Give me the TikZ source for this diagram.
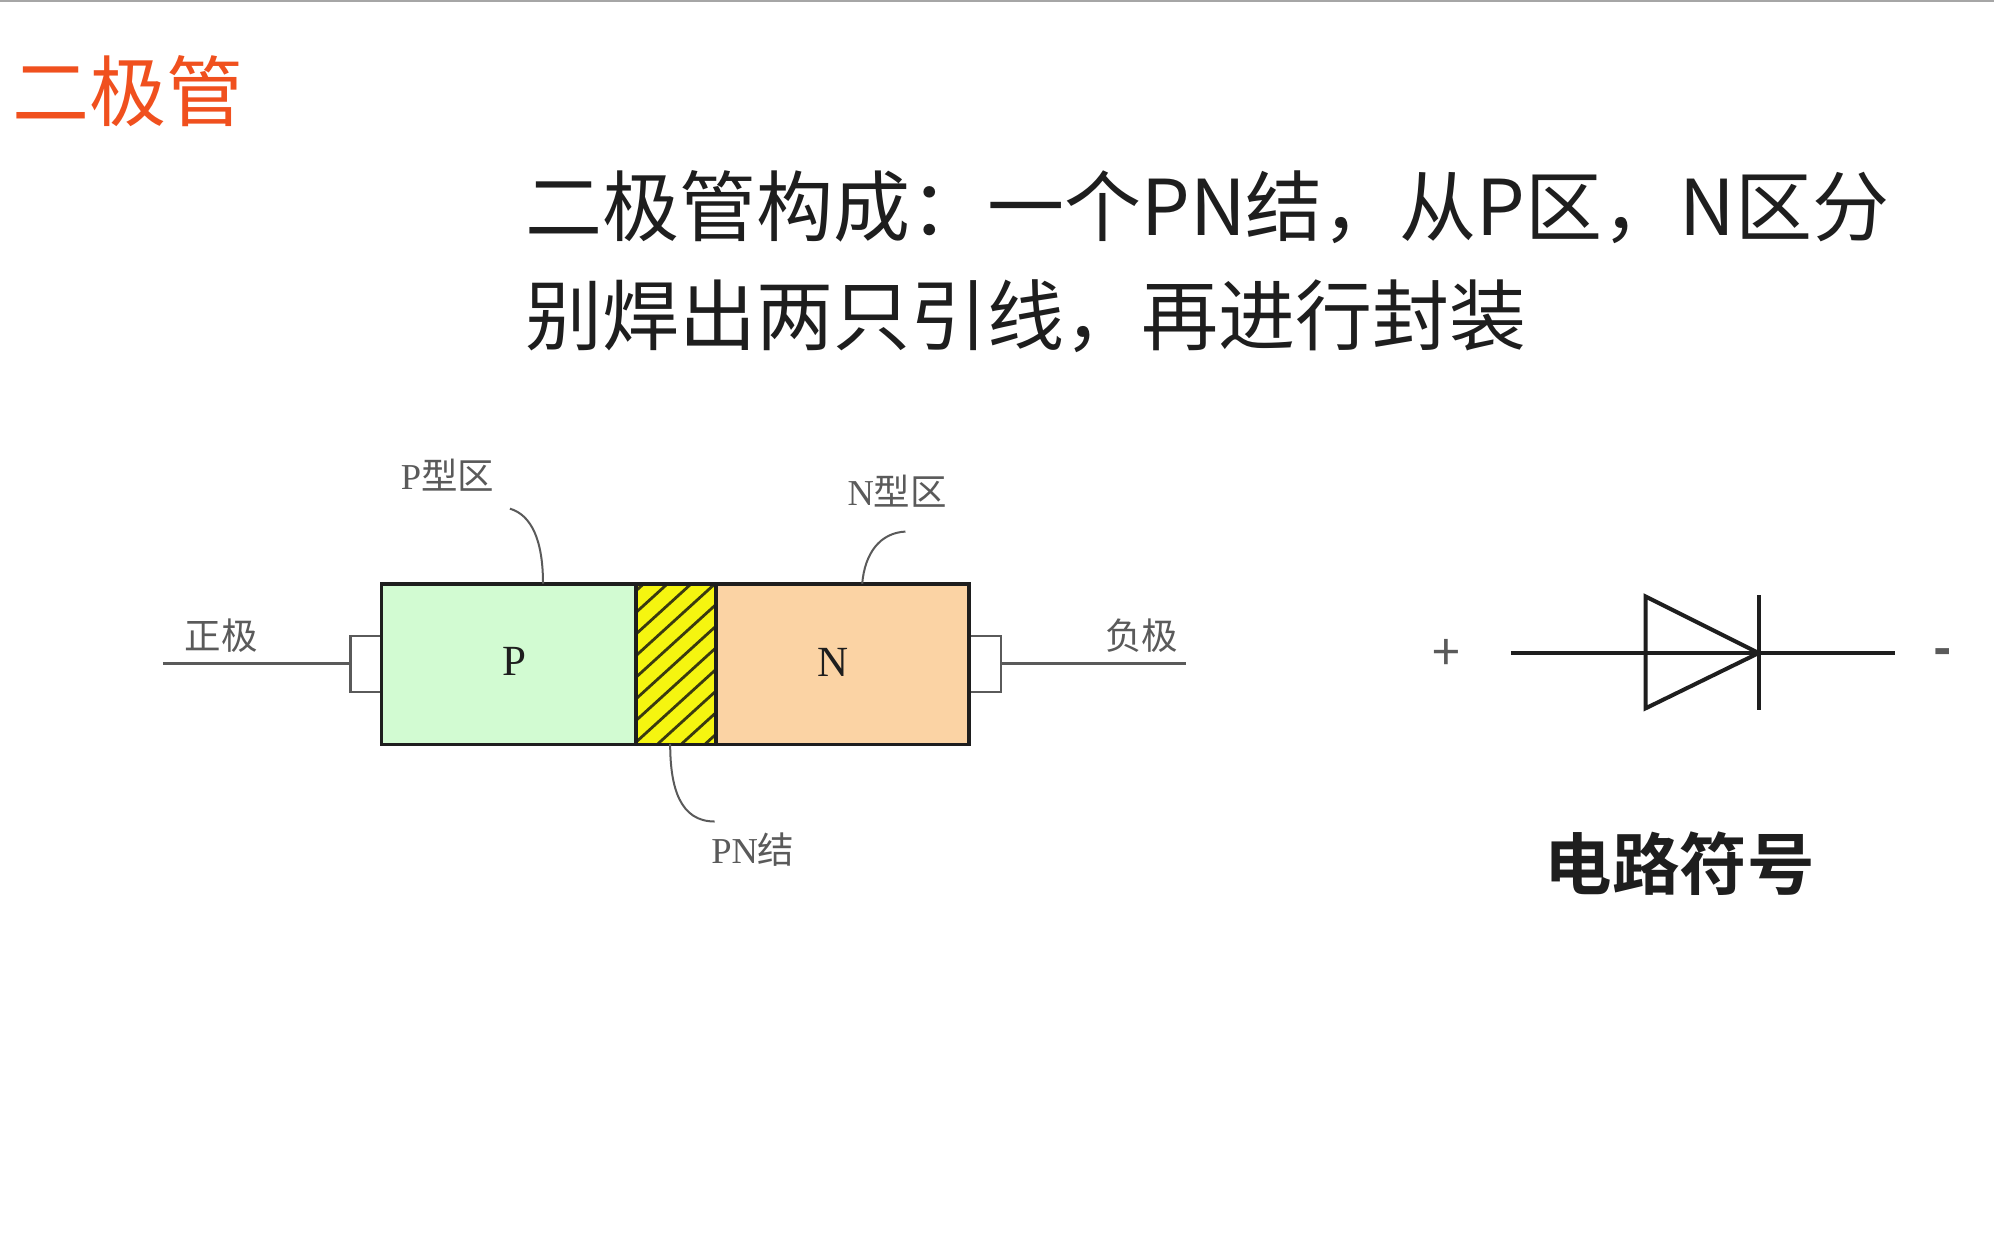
\documentclass[tikz,border=0pt]{standalone}
\usepackage{fontspec}
\setmainfont{Liberation Serif}
\newfontfamily\cjk{Noto Sans CJK SC}
\newfontfamily\cjkb{Noto Sans CJK SC}[BoldFont={Noto Sans CJK SC Bold}]
\definecolor{titleor}{HTML}{F0501E}
\definecolor{pgreen}{HTML}{D2FBD2}
\definecolor{norange}{HTML}{FBD3A4}
\definecolor{junc}{HTML}{F5F510}
\definecolor{lbl}{HTML}{5A5A5A}
\definecolor{ink}{HTML}{1E1E1E}
\definecolor{hatchc}{HTML}{3A3A10}
\tikzset{
  x=1.2717pt,y=-1.2717pt,
  region/.style={draw=ink,line width=3.8pt,inner sep=0,outer sep=0,anchor=north west,minimum height=160.2pt},
  leadbox/.style={draw=lbl,line width=2.4pt,fill=white,inner sep=0,outer sep=0,minimum width=31.8pt,minimum height=56pt},
  wire/.style={draw=lbl,line width=3pt},
  leader/.style={draw=lbl,line width=2pt},
  small/.style={text=lbl,inner sep=0,font=\fontsize{36.5}{38}\selectfont},
  big/.style={text=ink,inner sep=0,anchor=base west,font=\cjk\fontsize{77}{77}\selectfont},
  sym/.style={draw=ink,line width=4pt},
}
\begin{document}
\begin{tikzpicture}
\useasboundingbox (0,0) rectangle (1568,980.6);
\fill[white] (0,0) rectangle (1568,980.6);
\fill[black!35] (0,0) rectangle (1568,1.6);
% title and text
\node[inner sep=0,anchor=base west,text=titleor,font=\cjk\fontsize{77}{77}\selectfont] (title) at (10,95) {二极管};
\node[big] (line1) at (413,185.5) {二极管构成：一个PN结，从P区，N区分};
\node[big] (line2) at (413,271) {别焊出两只引线，再进行封装};
% leads
\node[leadbox] (ll) at (288,522) {};
\node[leadbox] (rl) at (774.5,522) {};
% body
\node[region,fill=pgreen,minimum width=254.3pt] (pr) at (300,459.5) {};
\node[region,fill=norange,minimum width=253pt] (nr) at (563,459.5) {};
\node[region,fill=junc,minimum width=80.1pt] (jr) at (500,459.5) {};
\begin{scope}
\clip (jr.north west) rectangle (jr.south east);
\foreach \k in {-6,...,6} {
  \draw[hatchc,line width=2.8pt] (480,550.9+\k*17) -- ++(100,-91);
}
\end{scope}
\node[region,minimum width=80.1pt] (jo) at (500,459.5) {};
\draw[wire] (128,522) coordinate (lend) -- (ll.west);
\draw[wire] (rl.east) -- (933,522) coordinate (rend);
% leader curves
\coordinate (pc) at (401,400);
\coordinate (nc) at (712,418);
\coordinate (jc) at (562,646);
\draw[leader] (pc) .. controls (418,405) and (427,425) .. (427,459);
\draw[leader] (nc) .. controls (692,419) and (680,435) .. (678,459);
\draw[leader] (527,585) .. controls (527,620) and (535,646) .. (jc);
% labels
\node[small] (lp) at (352,374) {P\cjk 型区};
\node[small] (ln) at (705.5,386) {N\cjk 型区};
\node[small] (lpos) at (174,500) {\cjk 正极};
\node[small] (lneg) at (898,500) {\cjk 负极};
\node[small] (lj) at (592,668) {PN\cjk 结};
\node[inner sep=0,text=ink,font=\fontsize{43}{43}\selectfont] (tp) at (404.5,520) {P};
\node[inner sep=0,text=ink,font=\fontsize{43}{43}\selectfont] (tn) at (655,520.5) {N};
% symbol
\coordinate (sl) at (1188,513.5);
\coordinate (sr) at (1490,513.5);
\coordinate (ta) at (1294,469);
\coordinate (tb) at (1294,557);
\coordinate (tc) at (1383,513.5);
\draw[sym] (sl) -- (sr);
\draw[sym,line join=miter] (ta) -- (tb) -- (tc) -- cycle;
\draw[sym] (1383,468) -- (1383,558);
\node[inner sep=0,text=lbl,font=\cjk\fontsize{50}{50}\selectfont] (plus) at (1137,515) {+};
\node[inner sep=0,text=lbl,font=\cjk\bfseries\fontsize{48}{48}\selectfont] (minus) at (1528,517) {-};
\node[inner sep=0,text=ink,font=\cjkb\bfseries\fontsize{67.5}{67.5}\selectfont] (cap) at (1321,679) {电路符号};
\end{tikzpicture}
\end{document}
